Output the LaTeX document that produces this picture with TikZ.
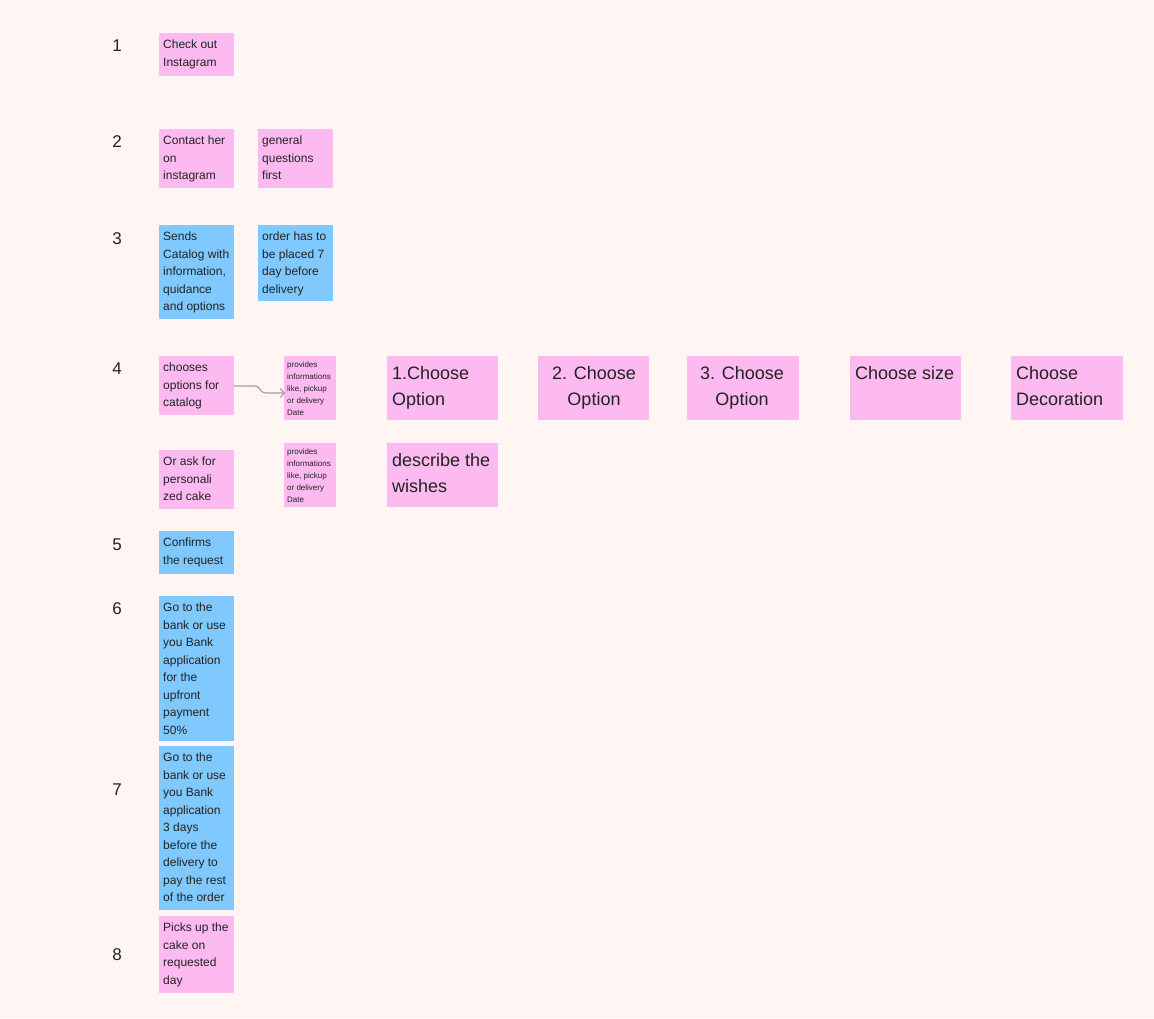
\documentclass[tikz,border=0pt]{standalone}
\usepackage{fontspec}
\setmainfont{Liberation Sans}
\usetikzlibrary{arrows.meta}
\definecolor{bg}{HTML}{FFF5F3}
\definecolor{pk}{HTML}{FDBAF0}
\definecolor{bl}{HTML}{80C9FF}
\definecolor{tx}{HTML}{222222}
\begin{document}
\begin{tikzpicture}[x=1pt,y=-1pt,
 sm/.style={anchor=north west,inner sep=0,align=left,text=tx,font=\fontsize{12}{17.5}\selectfont},
 lg/.style={anchor=north west,inner sep=0,align=left,text=tx,font=\fontsize{18}{26}\selectfont},
 tn/.style={anchor=north west,inner sep=0,align=left,text=tx,font=\fontsize{8}{12}\selectfont},
 num/.style={text=tx,font=\fontsize{17}{18}\selectfont}]
\fill[bg] (0,0) rectangle (1154,1018);
\useasboundingbox (0,0) rectangle (1154,1018);
% numbers
\node[num] (n1) at (117,46) {1};
\node[num] (n2) at (117,142) {2};
\node[num] (n3) at (117,239) {3};
\node[num] (n4) at (117,369) {4};
\node[num] (n5) at (117,545) {5};
\node[num] (n6) at (117,609) {6};
\node[num] (n7) at (117,790) {7};
\node[num] (n8) at (117,955) {8};
% row 1
\fill[pk] (159,33) rectangle (234,76);
\node[sm] (ta) at (163,40) {Check out\\Instagram};
% row 2
\fill[pk] (159,129) rectangle (234,188);
\node[sm] (tb) at (163,136) {Contact her\\on\\instagram};
\fill[pk] (258,129) rectangle (333,188);
\node[sm] (tb2) at (262,136) {general\\questions\\first};
% row 3
\fill[bl] (159,225) rectangle (234,319);
\node[sm] (tc) at (163,232) {Sends\\Catalog with\\information,\\quidance\\and options};
\fill[bl] (258,225) rectangle (333,301);
\node[sm] (tc2) at (262,232) {order has to\\be placed 7\\day before\\delivery};
% row 4
\fill[pk] (159,356) rectangle (234,415);
\node[sm] (td) at (163,363) {chooses\\options for\\catalog};
\coordinate (dE) at (234,386);
\fill[pk] (284,356) rectangle (336,420);
\node[tn] (td2) at (287,361) {provides\\informations\\like, pickup\\or delivery\\Date};
\coordinate (d2W) at (285,393);
\fill[pk] (387,356) rectangle (498,420);
\node[lg] (o1) at (392,366) {1.Choose\\Option};
\fill[pk] (538,356) rectangle (649,420);
\node[lg,align=center,anchor=north] (o2) at (594,366) {2. Choose\\Option};
\fill[pk] (687,356) rectangle (799,420);
\node[lg,align=center,anchor=north] (o3) at (742,366) {3. Choose\\Option};
\fill[pk] (850,356) rectangle (961,420);
\node[lg] (o4) at (855,366) {Choose size};
\fill[pk] (1011,356) rectangle (1123,420);
\node[lg] (o5) at (1016,366) {Choose\\Decoration};
\draw[gray!75,line width=1.1pt,line cap=round,-{Straight Barb[length=4pt,width=9pt]}] (dE) -- (254,386) .. controls (262,386) and (258,393) .. (267,393) -- (d2W);
% row 4b
\fill[pk] (159,450) rectangle (234,509);
\node[sm] (te) at (163,457) {Or ask for\\personali\\zed cake};
\fill[pk] (284,443) rectangle (336,507);
\node[tn] (te2) at (287,448) {provides\\informations\\like, pickup\\or delivery\\Date};
\fill[pk] (387,443) rectangle (498,507);
\node[lg] (o6) at (392,453) {describe the\\wishes};
% row 5
\fill[bl] (159,531) rectangle (234,574);
\node[sm] (tf) at (163,538) {Confirms\\the request};
% row 6
\fill[bl] (159,596) rectangle (234,741);
\node[sm] (tg) at (163,603) {Go to the\\bank or use\\you Bank\\application\\for the\\upfront\\payment\\50\%};
% row 7
\fill[bl] (159,746) rectangle (234,910);
\node[sm] (th) at (163,753) {Go to the\\bank or use\\you Bank\\application\\3 days\\before the\\delivery to\\pay the rest\\of the order};
% row 8
\fill[pk] (159,916) rectangle (234,993);
\node[sm] (ti) at (163,923) {Picks up the\\cake on\\requested\\day};
\end{tikzpicture}
\end{document}
